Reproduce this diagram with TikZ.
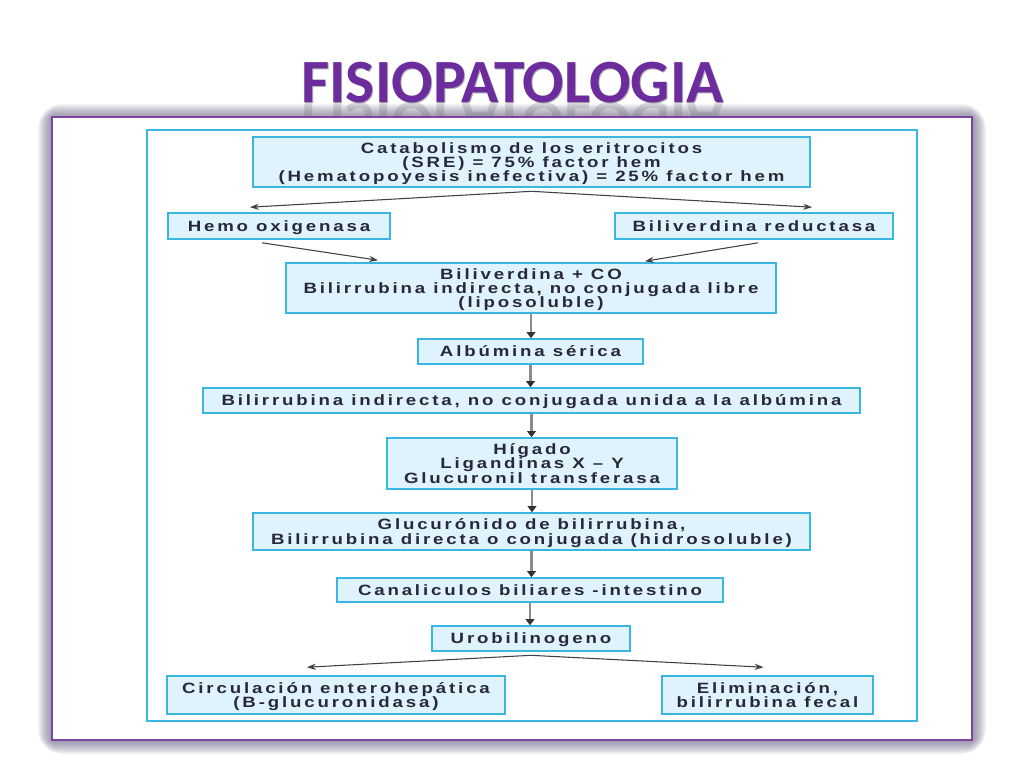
\documentclass[tikz,border=0pt]{standalone}
\usepackage{fontspec}
\usetikzlibrary{arrows.meta}
\newfontfamily\titlefont{Carlito}
\newfontfamily\cajafont{Liberation Sans}[LetterSpace=19,FakeStretch=1.25]
\definecolor{morado}{RGB}{108,44,158}
\definecolor{marco}{RGB}{122,70,160}
\definecolor{sombra}{RGB}{110,100,128}
\definecolor{cian}{RGB}{58,182,226}
\definecolor{celeste}{RGB}{222,243,251}
\definecolor{texto}{RGB}{40,40,58}
\begin{document}
\lineskiplimit=-100pt\relax
\begin{tikzpicture}[x=0.02cm,y=-0.02cm,
  caja/.style={draw=cian, fill=celeste, line width=0.9pt, inner sep=0pt,
    align=center, text=texto, text depth=-1.5pt,
    font=\cajafont\bfseries\fontsize{8.5}{8}\selectfont},
  titular/.style={font=\titlefont\bfseries\fontsize{35}{35}\selectfont, anchor=base},
  flecha/.style={draw=black!75, line width=0.6pt, -{Stealth[length=5pt,width=3.5pt]}},
  flechav/.style={draw=black!45, line width=1.6pt, -{Triangle[length=3.5pt,width=5pt,color=black!80]}}]

\useasboundingbox (0,0) rectangle (1024,768);
\fill[white] (0,0) rectangle (1024,768);

% title, its shadow and its reflection
\node[titular, text=black, opacity=0.3] (tsombra) at (513.5,103) {FISIOPATOLOGIA};
\node[titular, text=morado] (titulo) at (512.5,102) {FISIOPATOLOGIA};
\begin{scope}
\clip (250,102) rectangle (780,118);
\node[titular, text=sombra, opacity=0.25, yscale=-1] (reflejo) at (512.5,102) {FISIOPATOLOGIA};
\end{scope}

% frame with shadow
\foreach \s in {1,...,14}
  \fill[sombra, opacity=0.065, rounded corners=\s] (52-\s,117-\s+1) rectangle (972+\s,740+\s);
\draw[fill=white, draw=marco, line width=0.8pt] (52,117) rectangle (972,740);
\draw[cian, line width=1.4pt] (147,130) rectangle (917,721);

% boxes
\node[caja, minimum width=11.14cm, minimum height=1.0cm, text depth=-4pt] (cat) at (531.5,162)
  {Catabolismo de los eritrocitos\\(SRE) = 75\% factor hem\\(Hematopoyesis inefectiva) = 25\% factor hem};
\node[caja, minimum width=4.44cm, minimum height=0.52cm] (hemo) at (279,226) {Hemo oxigenasa};
\node[caja, minimum width=5.56cm, minimum height=0.52cm] (redu) at (754,226) {Biliverdina reductasa};
\node[caja, minimum width=9.8cm, minimum height=1.0cm] (bilv) at (531,288)
  {Biliverdina + CO\\Bilirrubina indirecta, no conjugada libre\\(liposoluble)};
\node[caja, minimum width=4.5cm, minimum height=0.5cm] (alb) at (530.5,351.5) {Albúmina sérica};
\node[caja, minimum width=13.14cm, minimum height=0.5cm] (unida) at (531.5,400.5)
  {Bilirrubina indirecta, no conjugada unida a la albúmina};
\node[caja, minimum width=5.8cm, minimum height=1.02cm] (hig) at (532,463.5)
  {Hígado\\Ligandinas X – Y\\Glucuronil transferasa};
\node[caja, minimum width=11.14cm, minimum height=0.74cm] (gluc) at (531.5,531.5)
  {Glucurónido de bilirrubina,\\Bilirrubina directa o conjugada (hidrosoluble)};
\node[caja, minimum width=7.72cm, minimum height=0.48cm] (can) at (530,590) {Canaliculos biliares -intestino};
\node[caja, minimum width=3.96cm, minimum height=0.5cm] (uro) at (531,638.5) {Urobilinogeno};
\node[caja, minimum width=6.76cm, minimum height=0.76cm] (circ) at (336,695)
  {Circulación enterohepática\\(B-glucuronidasa)};
\node[caja, minimum width=4.22cm, minimum height=0.76cm] (elim) at (767.5,695)
  {Eliminación,\\bilirrubina fecal};

% connectors
\draw[flecha] ([yshift=-2]cat.south) -- ([shift={(-29,-5)}]hemo.north);
\draw[flecha] ([yshift=-2]cat.south) -- ([shift={(58,-5)}]redu.north);
\draw[flecha] ([shift={(-17,3)}]hemo.south) -- ([shift={(-153,-2)}]bilv.north);
\draw[flecha] ([shift={(4,3)}]redu.south) -- ([shift={(114,-1)}]bilv.north);
\draw[flechav] (bilv.south) -- (bilv.south |- alb.north);
\draw[flechav] (alb.south) -- (alb.south |- unida.north);
\draw[flechav] (unida.south) -- (unida.south |- hig.north);
\draw[flechav] (hig.south) -- (hig.south |- gluc.north);
\draw[flechav] (gluc.south) -- (gluc.south |- can.north);
\draw[flechav] (can.south) -- (can.south |- uro.north);
\draw[flecha] ([yshift=-2]uro.south) -- ([shift={(-29,-8)}]circ.north);
\draw[flecha] ([yshift=-2]uro.south) -- ([shift={(-4,-8)}]elim.north);

\end{tikzpicture}
\end{document}
